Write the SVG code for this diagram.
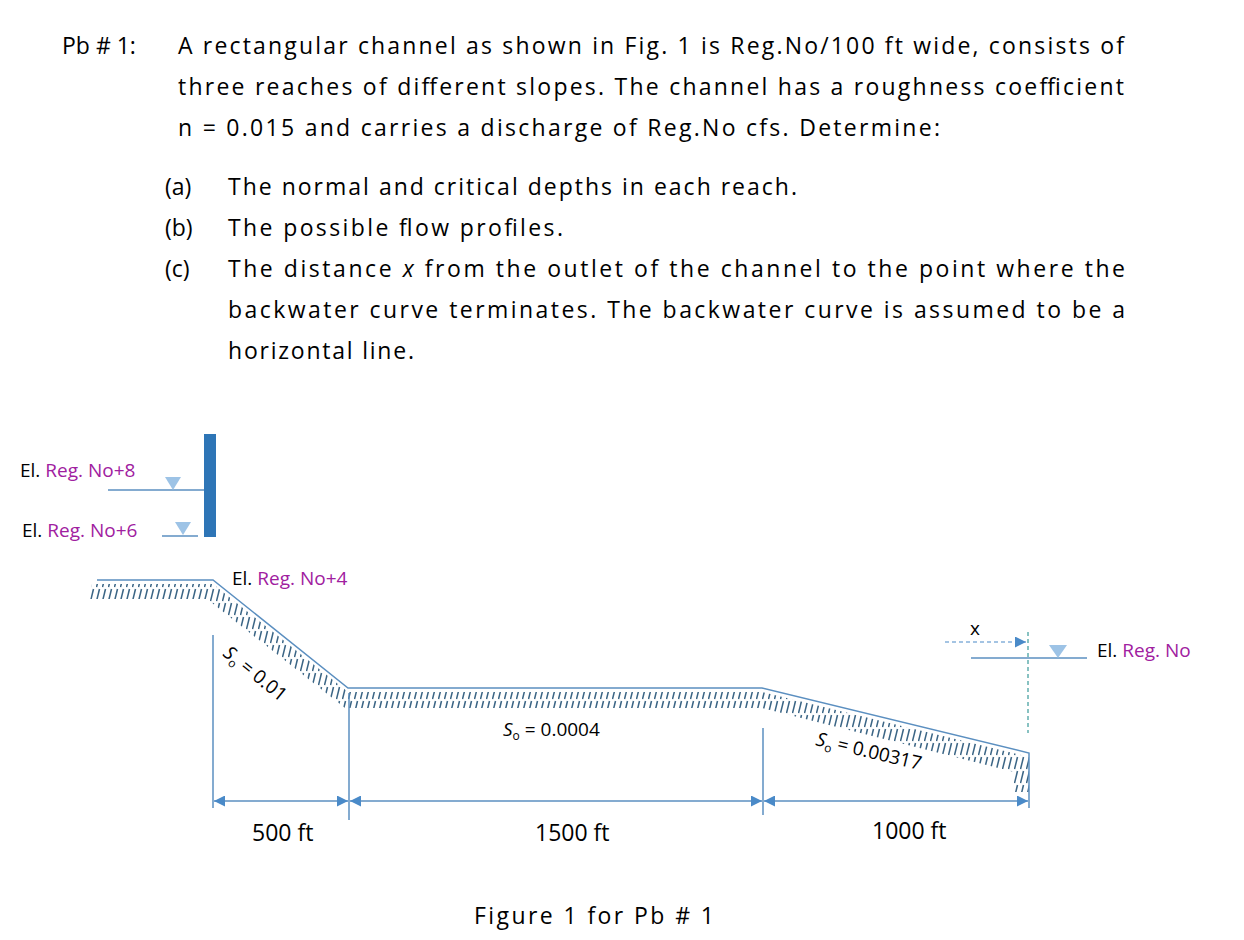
<svg xmlns="http://www.w3.org/2000/svg" width="1244" height="940" viewBox="0 0 1244 940">
<style>
.t{font-family:"Open Sans","Liberation Sans",sans-serif;font-size:23px;fill:#000}
.s{font-family:"Open Sans","Liberation Sans",sans-serif;font-size:19px;fill:#000}
.m{fill:#a020a0}
.ln{stroke:#5b8fc0;stroke-width:1.5;fill:none}
.w{fill:#9dc3e6}
</style>
<defs>
<pattern id="h" patternUnits="userSpaceOnUse" width="6" height="14"><line x1="0.5" y1="13" x2="3.5" y2="1" stroke="#3b6585" stroke-width="1.5"/></pattern>
<marker id="a" viewBox="0 0 10 10" refX="10" refY="5" markerWidth="11" markerHeight="11" markerUnits="userSpaceOnUse" orient="auto-start-reverse"><path d="M0,0 L10,5 L0,10 Z" fill="#4a8ac8"/></marker>
</defs>
<rect width="1244" height="940" fill="#fff"/>
<g id="text">
<text class="t" x="62" y="54">Pb # 1:</text>
<text class="t" x="178" y="54" textLength="946">A rectangular channel as shown in Fig. 1 is Reg.No/100 ft wide, consists of</text>
<text class="t" x="178" y="95" textLength="946">three reaches of different slopes. The channel has a roughness coefficient</text>
<text class="t" x="178" y="136" textLength="762">n = 0.015 and carries a discharge of Reg.No cfs.  Determine:</text>
<text class="t" x="165" y="195">(a)</text><text class="t" x="228" y="195" textLength="569">The normal and critical depths in each reach.</text>
<text class="t" x="165" y="236">(b)</text><text class="t" x="228" y="236" textLength="335">The possible flow profiles.</text>
<text class="t" x="165" y="277">(c)</text><text class="t" x="228" y="277" textLength="897">The distance <tspan font-style="italic">x</tspan> from the outlet of the channel to the point where the</text>
<text class="t" x="228" y="318" textLength="897">backwater curve terminates. The backwater curve is assumed to be a</text>
<text class="t" x="228" y="359" textLength="186">horizontal line.</text>
<text class="t" x="474" y="924" textLength="240">Figure 1 for Pb # 1</text>
</g>
<g id="gate">
<rect x="204" y="434" width="12" height="103" fill="#2e75b6"/>
<line class="ln" x1="108" y1="490" x2="204" y2="490"/>
<line class="ln" x1="162" y1="536" x2="198" y2="536"/>
<path class="w" d="M165,477 L181,477 L173,490 Z"/>
<path class="w" d="M175,522 L191,522 L183,535 Z"/>
<text class="s" x="20" y="477">El. <tspan class="m">Reg. No+8</tspan></text>
<text class="s" x="22" y="537">El. <tspan class="m">Reg. No+6</tspan></text>
</g>
<g id="channel">
<polygon fill="url(#h)" points="92,584 213,584 348,692 762,692 1029,757 1029,792 1014,792 1014,772 762,708 345,708 207,599 90,599"/>
<polyline points="97,580 213,580 348,688 762,688 1029,753 1029,808" fill="none" stroke="#5b8fc0" stroke-width="1.5"/>
<text class="s" x="232" y="585">El. <tspan class="m">Reg. No+4</tspan></text>
<text class="s" transform="translate(222,655) rotate(39)"><tspan font-style="italic">S</tspan><tspan font-size="12" dy="4">o</tspan><tspan dy="-4"> = 0.01</tspan></text>
<text class="s" x="503" y="736"><tspan font-style="italic">S</tspan><tspan font-size="12" dy="4">o</tspan><tspan dy="-4"> = 0.0004</tspan></text>
<text class="s" transform="translate(815,745) rotate(13.5)"><tspan font-style="italic">S</tspan><tspan font-size="12" dy="4">o</tspan><tspan dy="-4"> = 0.00317</tspan></text>
</g>
<g id="outlet">
<text class="s" x="970" y="635">x</text>
<line x1="945" y1="642" x2="1026" y2="642" stroke="#4a8ac8" stroke-width="1.2" stroke-dasharray="4 3" marker-end="url(#a)"/>
<line x1="1028" y1="632" x2="1028" y2="733" stroke="#3a9a9a" stroke-width="1.2" stroke-dasharray="4 3"/>
<line class="ln" x1="971" y1="658" x2="1087" y2="658"/>
<path class="w" d="M1049,645 L1067,645 L1058,658 Z"/>
<text class="s" x="1097" y="657">El. <tspan class="m">Reg. No</tspan></text>
</g>
<g id="connectors" class="ln">
<line x1="213" y1="635" x2="213" y2="808"/>
<line x1="349" y1="693" x2="349" y2="820"/>
<line x1="763" y1="728" x2="763" y2="815"/>
<line x1="214" y1="801" x2="348" y2="801" marker-start="url(#a)" marker-end="url(#a)"/>
<line x1="350" y1="801" x2="762" y2="801" marker-start="url(#a)" marker-end="url(#a)"/>
<line x1="764" y1="801" x2="1028" y2="801" marker-start="url(#a)" marker-end="url(#a)"/>
</g>
<g id="dims">
<text class="t" x="252" y="841">500 ft</text>
<text class="t" x="535" y="841">1500 ft</text>
<text class="t" x="872" y="839">1000 ft</text>
</g>
</svg>
